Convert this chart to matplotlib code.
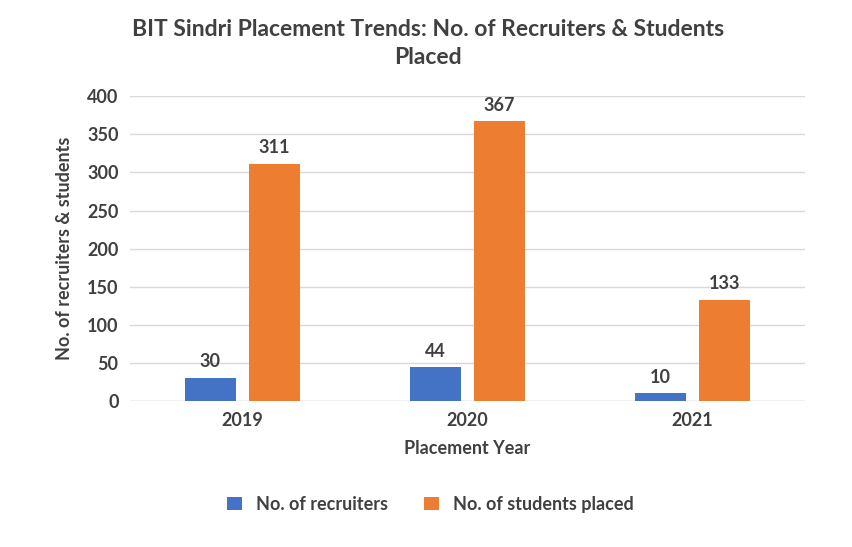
import matplotlib.pyplot as plt
import numpy as np

years = ["2019", "2020", "2021"]
recruiters = [30, 44, 10]
students = [311, 367, 133]

plt.rcParams['font.family'] = ['Lato', 'DejaVu Sans']
fig = plt.figure(figsize=(8.53, 5.47), dpi=100)
ax = fig.add_axes([0.152, 0.267, 0.792, 0.557])
x = np.arange(len(years))
w = 0.227
off = 0.142
b1 = ax.bar(x - off, recruiters, w, color='#4472C4', label='No. of recruiters', zorder=3)
b2 = ax.bar(x + off, students, w, color='#ED7D31', label='No. of students placed', zorder=3)
for bars in (b1, b2):
    for r in bars:
        ax.text(r.get_x() + r.get_width()/2, r.get_height() + 10, f"{int(r.get_height())}",
                ha='center', va='bottom', fontsize=13, fontweight='bold', color='#404040')
ax.set_xlim(-0.5, 2.5)
ax.set_ylim(0, 400)
ax.set_yticks(range(0, 401, 50))
ax.set_xticks(x)
ax.set_xticklabels(years)
ax.tick_params(axis='both', length=0, labelsize=13, labelcolor='#404040', pad=8)
for t in ax.get_xticklabels() + ax.get_yticklabels():
    t.set_fontweight('bold')
ax.grid(axis='y', color='#D9D9D9', linewidth=1, zorder=0)
for s in ax.spines.values():
    s.set_visible(False)
ax.axhline(0, color='#D9D9D9', linewidth=1, zorder=2)
ax.set_xlabel('Placement Year', fontsize=13, fontweight='bold', color='#404040', labelpad=8)
ax.set_ylabel('No. of recruiters & students', fontsize=13, fontweight='bold', color='#404040', labelpad=10)
fig.text(0.502, 0.92, 'BIT Sindri Placement Trends: No. of Recruiters & Students\nPlaced',
         ha='center', va='center', fontsize=16.5, fontweight='bold', color='#404040', linespacing=1.4)
fig.legend(handles=[b1, b2], loc='center', bbox_to_anchor=(0.505, 0.078), ncol=2, frameon=False,
           prop={'size': 13, 'weight': 'bold'}, labelcolor='#404040', handlelength=0.8, handleheight=0.8,
           columnspacing=2.0)
fig.savefig('out.png', dpi=100)
